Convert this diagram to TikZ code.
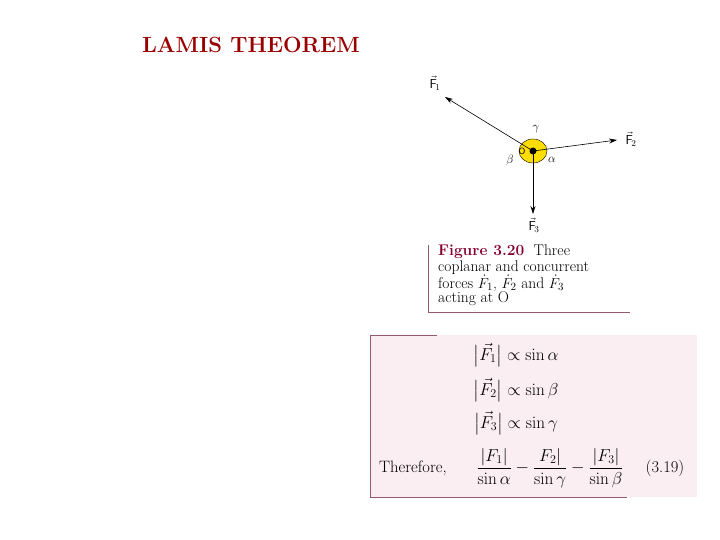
\documentclass[tikz,border=0pt]{standalone}
\usepackage{amsmath}
\usetikzlibrary{arrows.meta}
\begin{document}
\begin{tikzpicture}[x=1pt,y=-1pt,
  force/.style={-{Stealth[length=8pt,width=5pt]},semithick},
  lbl/.style={font=\sffamily\fontsize{13}{14}\selectfont,inner sep=1pt},
  captxt/.style={anchor=west,font=\fontsize{15.5}{16}\selectfont,inner sep=0pt},
  eq/.style={font=\fontsize{16.5}{18}\selectfont,inner sep=1pt}]
\useasboundingbox (0,0) rectangle (720,540);
\node[font=\bfseries\fontsize{22}{24}\selectfont,text=red!60!black] (title) at (251,45) {LAMIS THEOREM};
% diagram
\fill[yellow!80!orange] (533,151) ellipse (14 and 12);
\draw[thin] (533,151) ellipse (14 and 12);
\coordinate (O) at (533,151);
\coordinate (e1) at (445,97);
\coordinate (e2) at (617,140);
\coordinate (e3) at (533,214);
\draw[force] (O) -- (e1);
\draw[force] (O) -- (e2);
\draw[force] (O) -- (e3);
\fill (O) circle (3.5);
\node[lbl] (f1) at (435,83) {$\vec{\text{\sffamily F}}_{\!1}$};
\node[lbl] (f2) at (631,139) {$\vec{\text{\sffamily F}}_{\!2}$};
\node[lbl] (f3) at (534,225) {$\vec{\text{\sffamily F}}_{\!3}$};
\node[lbl] (g) at (536,129) {$\gamma$};
\node[lbl] (b) at (510,161) {$\beta$};
\node[lbl] (a) at (552,160) {$\alpha$};
\node[lbl,font=\sffamily\fontsize{9}{10}\selectfont,inner sep=0pt] (o) at (522,151) {O};
% caption
\draw[gray!70!purple,thin] (428,245) -- (428,312) -- (630,312);
\node[captxt] (c1) at (438,252) {\textcolor{purple!70!black}{\bfseries Figure 3.20}\ \ Three};
\node[captxt] (c2) at (438,267.5) {coplanar and concurrent};
\node[captxt] (c3) at (438,283) {forces $\dot F_{1}$, $\dot F_{2}$ and $\dot F_{3}$};
\node[captxt] (c4) at (438,298.5) {acting at O};
% formula box
\fill[pink!20!purple!8] (370,335) rectangle (697,497);
\draw[gray!70!purple,thin] (437,335) -- (370,335) -- (370,497) -- (627,497);
\node[eq] (q1) at (516,355) {$\bigl|\vec F_1\bigr| \propto \sin\alpha$};
\node[eq] (q2) at (516,390) {$\bigl|\vec F_2\bigr| \propto \sin\beta$};
\node[eq] (q3) at (516,423) {$\bigl|\vec F_3\bigr| \propto \sin\gamma$};
\node[eq,anchor=west] (th) at (378,468) {Therefore,};
\node[eq] (q4) at (550,468) {$\dfrac{|F_1|}{\sin\alpha} - \dfrac{F_2|}{\sin\gamma} - \dfrac{|F_3|}{\sin\beta}$};
\node[eq] (num) at (665,468) {(3.19)};
\end{tikzpicture}
\end{document}
